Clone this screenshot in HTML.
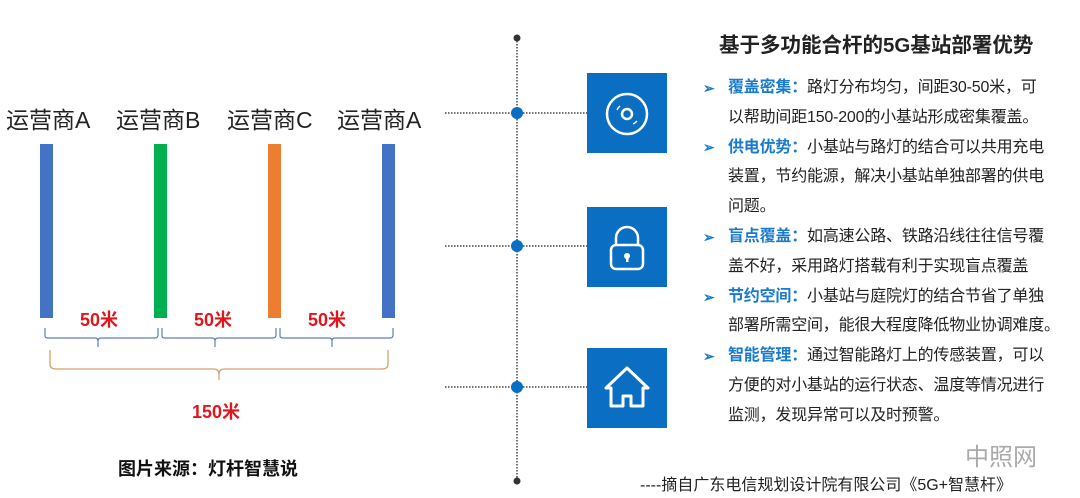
<!DOCTYPE html>
<html><head><meta charset="utf-8"><style>
body{margin:0;width:1080px;height:498px;background:#fff;position:relative;overflow:hidden;font-family:"Liberation Sans","Noto Sans CJK SC",sans-serif;}
.a{position:absolute;white-space:nowrap}
.lbl{font-size:23px;color:#222;top:101px}
.bar{position:absolute;top:144px;width:13px;height:174px}
.red{color:#e0161e;font-weight:bold;font-size:18px}
.box{position:absolute;left:587px;width:80px;height:80px;background:#0a6fc2}
.t{position:absolute;left:728px;font-size:16px;color:#222;line-height:29.8px;white-space:nowrap;letter-spacing:-0.2px}
.t b{color:#1a7bcc}
.bul{position:absolute;left:703px;color:#1a7bcc;font-size:14px;font-weight:bold}
</style></head><body>
<div class="a lbl" style="left:6px">运营商A</div>
<div class="a lbl" style="left:116px">运营商B</div>
<div class="a lbl" style="left:227px">运营商C</div>
<div class="a lbl" style="left:337px">运营商A</div>
<div class="bar" style="left:40px;background:#4472c4"></div>
<div class="bar" style="left:154px;background:#00b050"></div>
<div class="bar" style="left:268px;background:#ed7d31"></div>
<div class="bar" style="left:382px;background:#4472c4"></div>
<div class="a red" style="left:80px;top:306px">50米</div>
<div class="a red" style="left:194px;top:306px">50米</div>
<div class="a red" style="left:308px;top:306px">50米</div>
<div class="a red" style="left:192px;top:398px">150米</div>
<svg class="a" style="left:0;top:0" width="600" height="498">
<g fill="none" stroke="#5b7fc0" stroke-width="1.2">
<path d="M45 328 v8 q0 2 3 2 h47 q3 0 3 3 v6 M98 341 q0-3 3-3 h54 q3 0 3-3 v-7"/>
<path d="M162 328 v8 q0 2 3 2 h47 q3 0 3 3 v6 M215 341 q0-3 3-3 h55 q3 0 3-3 v-7"/>
<path d="M280 328 v8 q0 2 3 2 h46 q3 0 3 3 v6 M332 341 q0-3 3-3 h55 q3 0 3-3 v-7"/>
</g>
<path d="M50 350 v14 q0 5 6 5 h157 q6 0 6 5 v6 M219 374 q0-5 6-5 h157 q6 0 6-5 v-14" fill="none" stroke="#d9a06a" stroke-width="1.3"/>
<g stroke="#444" stroke-width="1.5" stroke-dasharray="1.5 1.5">
<line x1="517" y1="38" x2="517" y2="481"/>
<line x1="445" y1="113" x2="587" y2="113"/>
<line x1="445" y1="246" x2="587" y2="246"/>
<line x1="445" y1="387" x2="587" y2="387"/>
</g>
<circle cx="517" cy="38" r="3.5" fill="#333"/><circle cx="517" cy="481" r="3.5" fill="#333"/>
<circle cx="517" cy="113" r="6" fill="#0a6fc2"/><circle cx="517" cy="246" r="6" fill="#0a6fc2"/><circle cx="517" cy="387" r="6" fill="#0a6fc2"/>
</svg>
<div class="box" style="top:73px"><svg width="80" height="80"><g fill="none" stroke="#fff" stroke-width="2.5"><circle cx="40" cy="41" r="20"/><circle cx="40" cy="41" r="5"/><path d="M33 33 a11 11 0 0 0 -3 4 M50 48 a11 11 0 0 1 -4 3" stroke-width="1.5"/></g></svg></div>
<div class="box" style="top:207px"><svg width="80" height="80"><g fill="none" stroke="#fff" stroke-width="2.5"><path d="M29 38 v-7 a11 11 0 0 1 22 0 v7"/><rect x="24" y="38" width="32" height="24" rx="5"/></g><circle cx="40" cy="49" r="3" fill="#fff"/><rect x="39" y="49" width="2.5" height="6" fill="#fff"/></svg></div>
<div class="box" style="top:348px"><svg width="80" height="80"><path d="M40 20 L61 40 L56 40 L56 58 L44 58 L44 48 L36 48 L36 58 L24 58 L24 40 L19 40 Z" fill="none" stroke="#fff" stroke-width="3" stroke-linejoin="round"/></svg></div>
<div class="a" style="left:719px;top:28px;font-size:20.5px;font-weight:bold;color:#222">基于多功能合杆的5G基站部署优势</div>
<div class="bul" style="top:80px">➢</div><div class="bul" style="top:139px">➢</div><div class="bul" style="top:229px">➢</div><div class="bul" style="top:289px">➢</div><div class="bul" style="top:348px">➢</div>
<div class="t" style="top:73px"><b>覆盖密集：</b>路灯分布均匀，间距30-50米，可<br>以帮助间距150-200的小基站形成密集覆盖。<br><b>供电优势：</b>小基站与路灯的结合可以共用充电<br>装置，节约能源，解决小基站单独部署的供电<br>问题。<br><b>盲点覆盖：</b>如高速公路、铁路沿线往往信号覆<br>盖不好，采用路灯搭载有利于实现盲点覆盖<br><b>节约空间：</b>小基站与庭院灯的结合节省了单独<br>部署所需空间，能很大程度降低物业协调难度。<br><b>智能管理：</b>通过智能路灯上的传感装置，可以<br>方便的对小基站的运行状态、温度等情况进行<br>监测，发现异常可以及时预警。</div>
<div class="a" style="left:118px;top:455px;font-size:18px;font-weight:bold;color:#111">图片来源：灯杆智慧说</div>
<div class="a" style="left:640px;top:471px;font-size:16px;color:#222">----摘自广东电信规划设计院有限公司《5G+智慧杆》</div>
<div class="a" style="left:965px;top:437px;font-size:24px;color:#aaa">中照网</div>
</body></html>
